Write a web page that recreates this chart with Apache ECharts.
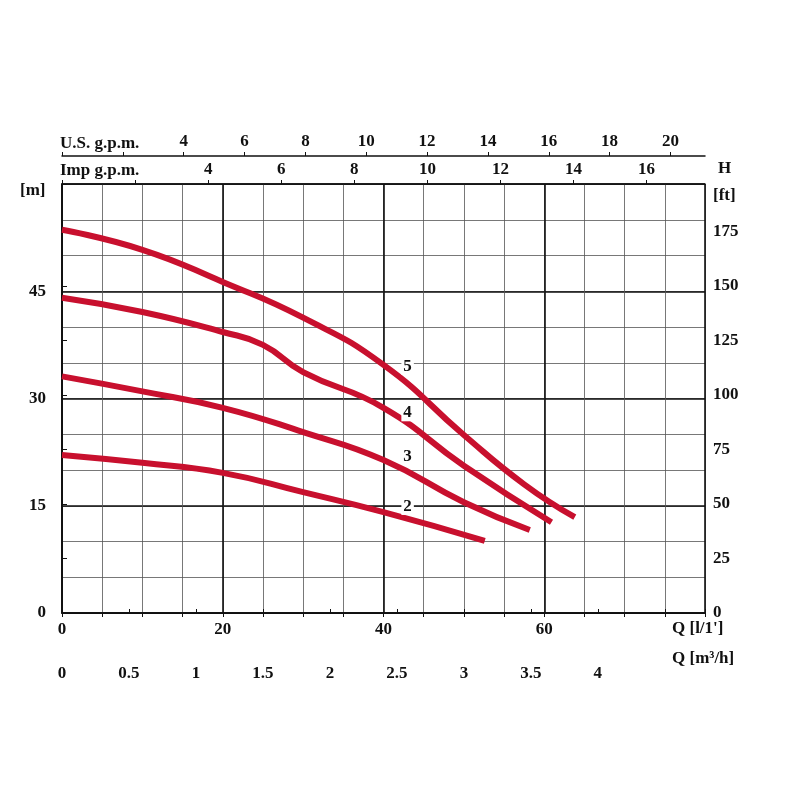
<!DOCTYPE html>
<html><head><meta charset="utf-8">
<script src="https://cdn.jsdelivr.net/npm/echarts@6/dist/echarts.min.js"></script>
<style>body{margin:0;background:#fff}#main{width:800px;height:800px}</style>
</head><body><div id="main"></div>
<script>
// Q in l/min, H in m
const curve2 = [[0,22.1],[10,21],[20,19.6],[30,16.9],[40,14.1],[52.6,10.1]];
const curve3 = [[0,33.1],[10,31],[20,28.7],[30,25.3],[40,21.4],[50,15.5],[58.2,11.6]];
const curve4 = [[0,44.1],[10,42.1],[20,39.3],[25,37.5],[30,33.7],[40,28.7],[50,20.6],[60.9,12.7]];
const curve5 = [[0,53.6],[10,50.8],[20,46.3],[30,41.3],[40,34.7],[50,24.9],[57.5,18],[63.8,13.4]];
const curveNames = ['2','3','4','5'];
const labelPos = [[43,14.9],[43,21.9],[43,28],[43,34.5]];

const font = 'Liberation Sans Narrow';
const red = '#c8102e';
const qMax = 80, hMax = 60;

const base = {fontFamily: font, fontSize: 17, fontWeight: 'bold', color: '#111'};
const noLine = {show: false};

const chart = echarts.init(document.getElementById('main'));
const txt = (x, y, s) => ({type: 'text', left: x, top: y, style: Object.assign({text: s, fill: '#111', font: 'bold 17px "' + font + '"'})});

chart.setOption({
  animation: false,
  grid: {left: 62, right: 95, top: 184, bottom: 187},
  xAxis: [
    {type: 'value', min: 0, max: qMax, interval: 5,
     axisLine: {lineStyle: {color: '#111', width: 1.5}}, axisTick: {show: true, length: 4, lineStyle: {color: '#111'}},
     axisLabel: Object.assign({}, base, {formatter: v => v % 20 === 0 && v < 80 ? v : ''}),
     splitLine: {lineStyle: {color: '#555', width: 0.8}}},
    {type: 'value', min: 0, max: qMax, interval: 20, position: 'bottom',
     axisLine: noLine, axisTick: noLine, axisLabel: noLine,
     splitLine: {lineStyle: {color: '#111', width: 1.6}}},
    {type: 'value', min: 0, max: qMax / 16.667, interval: 0.5, position: 'bottom', offset: 44,
     axisLine: {lineStyle: {color: '#111', width: 1.5}}, axisTick: {show: true, length: 4, inside: true, lineStyle: {color: '#111'}},
     axisLabel: Object.assign({}, base, {formatter: v => v <= 4 ? String(v) : ''}), splitLine: noLine},
    {type: 'value', min: 0, max: qMax / 4.546, interval: 2, position: 'top', offset: 0,
     axisLine: {lineStyle: {color: '#111', width: 1.5}}, axisTick: {show: true, length: 4, lineStyle: {color: '#111'}},
     axisLabel: Object.assign({}, base, {margin: 6, formatter: v => v >= 4 ? v : ''}), splitLine: noLine},
    {type: 'value', min: 0, max: qMax / 3.785, interval: 2, position: 'top', offset: 28,
     axisLine: {lineStyle: {color: '#111', width: 1.5}}, axisTick: {show: true, length: 4, lineStyle: {color: '#111'}},
     axisLabel: Object.assign({}, base, {margin: 6, formatter: v => v >= 4 ? v : ''}), splitLine: noLine}
  ],
  yAxis: [
    {type: 'value', min: 0, max: hMax, interval: 5, position: 'left',
     axisLine: {lineStyle: {color: '#111', width: 1.5}}, axisTick: noLine,
     axisLabel: Object.assign({}, base, {margin: 16, formatter: v => v % 15 === 0 && v < 60 ? v : ''}),
     splitLine: {lineStyle: {color: '#555', width: 0.8}}},
    {type: 'value', min: 0, max: hMax, interval: 15, position: 'left',
     axisLine: noLine, axisTick: noLine, axisLabel: noLine,
     splitLine: {lineStyle: {color: '#111', width: 1.6}}},
    {type: 'value', min: 0, max: hMax * 3.2808, interval: 25, position: 'right',
     axisLine: {lineStyle: {color: '#111', width: 1.5}}, axisTick: {show: true, length: 5, lineStyle: {color: '#111'}},
     axisLabel: Object.assign({}, base, {margin: 8, formatter: v => v <= 175 ? v : ''}), splitLine: noLine}
  ],
  series: [curve2, curve3, curve4, curve5].map((d, i) => ({
    type: 'line', data: d, smooth: true, symbol: 'none',
    lineStyle: {color: red, width: 6},
    markPoint: {symbol: 'circle', symbolSize: 1, itemStyle: {color: 'transparent'},
      label: Object.assign({}, base, {show: true, formatter: curveNames[i], backgroundColor: '#fff', padding: [0, 2]}),
      data: [{coord: labelPos[i]}]}
  })),
  graphic: [
    txt(60, 135, 'U.S. g.p.m.'),
    txt(60, 162, 'Imp g.p.m.'),
    txt(20, 182, '[m]'),
    txt(718, 160, 'H'),
    txt(713, 187, '[ft]'),
    txt(672, 620, "Q [l/1']"),
    txt(672, 650, 'Q [m³/h]')
  ]
});
</script></body></html>
